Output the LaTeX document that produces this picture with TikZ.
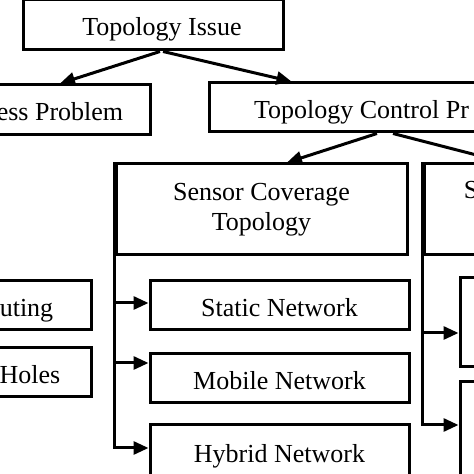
\documentclass[tikz,border=0pt]{standalone}
\usepackage{fontspec}
\setmainfont{Liberation Serif}
\usetikzlibrary{arrows.meta}
\begin{document}
\begin{tikzpicture}[
    x=1pt, y=1pt,
    >={Triangle[length=15pt,width=13pt]},
    line width=3pt,
    box/.style={draw, rectangle, align=center, inner sep=0pt, font=\fontsize{26pt}{30pt}\selectfont},
    leaf/.style={box, text height=22pt, text depth=0pt},
    link/.style={->, line width=3pt}
]
  \useasboundingbox (0,0) rectangle (474,474);
  \clip (0,0) rectangle (474,474);

  % Nivel superior
  \node[leaf, minimum width=260pt, minimum height=50pt] (issue) at (153,449) {\hspace*{18pt}Topology Issue};

  % Segundo nivel
  \node[leaf, minimum width=180pt, minimum height=50pt] (ess) at (60,364) {ess Problem};
  \node[leaf, minimum width=305pt, minimum height=49pt] (tcp) at (361.5,366.5) {Topology Control Pr};

  % Tercer nivel
  \node[box, minimum width=291pt, minimum height=91pt] (sct) at (261.5,264.5) {Sensor Coverage\\Topology};
  \node[box, minimum width=94pt, minimum height=91pt] (sc2) at (471,264.5) {S\\\strut};

  % Hojas
  \node[leaf, minimum width=259pt, minimum height=49pt] (static) at (279.5,168.5) {Static Network};
  \node[leaf, minimum width=259pt, minimum height=49pt] (mobile) at (279.5,95.5) {Mobile Network};
  \node[leaf, minimum width=259pt, minimum height=52pt] (hybrid) at (279.5,23) {Hybrid Network};
  \node[leaf, minimum width=129pt, minimum height=49pt] (routing) at (26.5,168.5) {uting};
  \node[leaf, minimum width=122pt, minimum height=49pt] (holes) at (30,101.5) {Holes};
  \node[box, minimum width=100pt, minimum height=89pt] (right1) at (510,151.5) {};
  \node[box, minimum width=100pt, minimum height=98pt] (right2) at (510,43) {};

  % Flechas entre niveles
  \draw[link] ([xshift=7pt]issue.south) -- (ess.north);
  \draw[link] ([xshift=10pt]issue.south) -- ([xshift=84pt]tcp.north west);
  \draw[link] ([xshift=15.5pt]tcp.south) -- ([xshift=25.5pt]sct.north);
  \draw[link] ([xshift=31.5pt]tcp.south) -- ([xshift=83pt]sc2.north west);

  % Barra izquierda
  \draw[link] (sct.north west) |- ([yshift=3pt]hybrid.west);
  \draw[link] ([yshift=2.5pt]static.west -| sct.west) -- ([yshift=2.5pt]static.west);
  \draw[link] ([yshift=15.5pt]mobile.west -| sct.west) -- ([yshift=15.5pt]mobile.west);

  % Barra derecha
  \draw[link] (sc2.north west) |- ([yshift=6pt]right2.west);
  \draw[link] ([yshift=-10.5pt]right1.west -| sc2.west) -- ([yshift=-10.5pt]right1.west);

\end{tikzpicture}
\end{document}
